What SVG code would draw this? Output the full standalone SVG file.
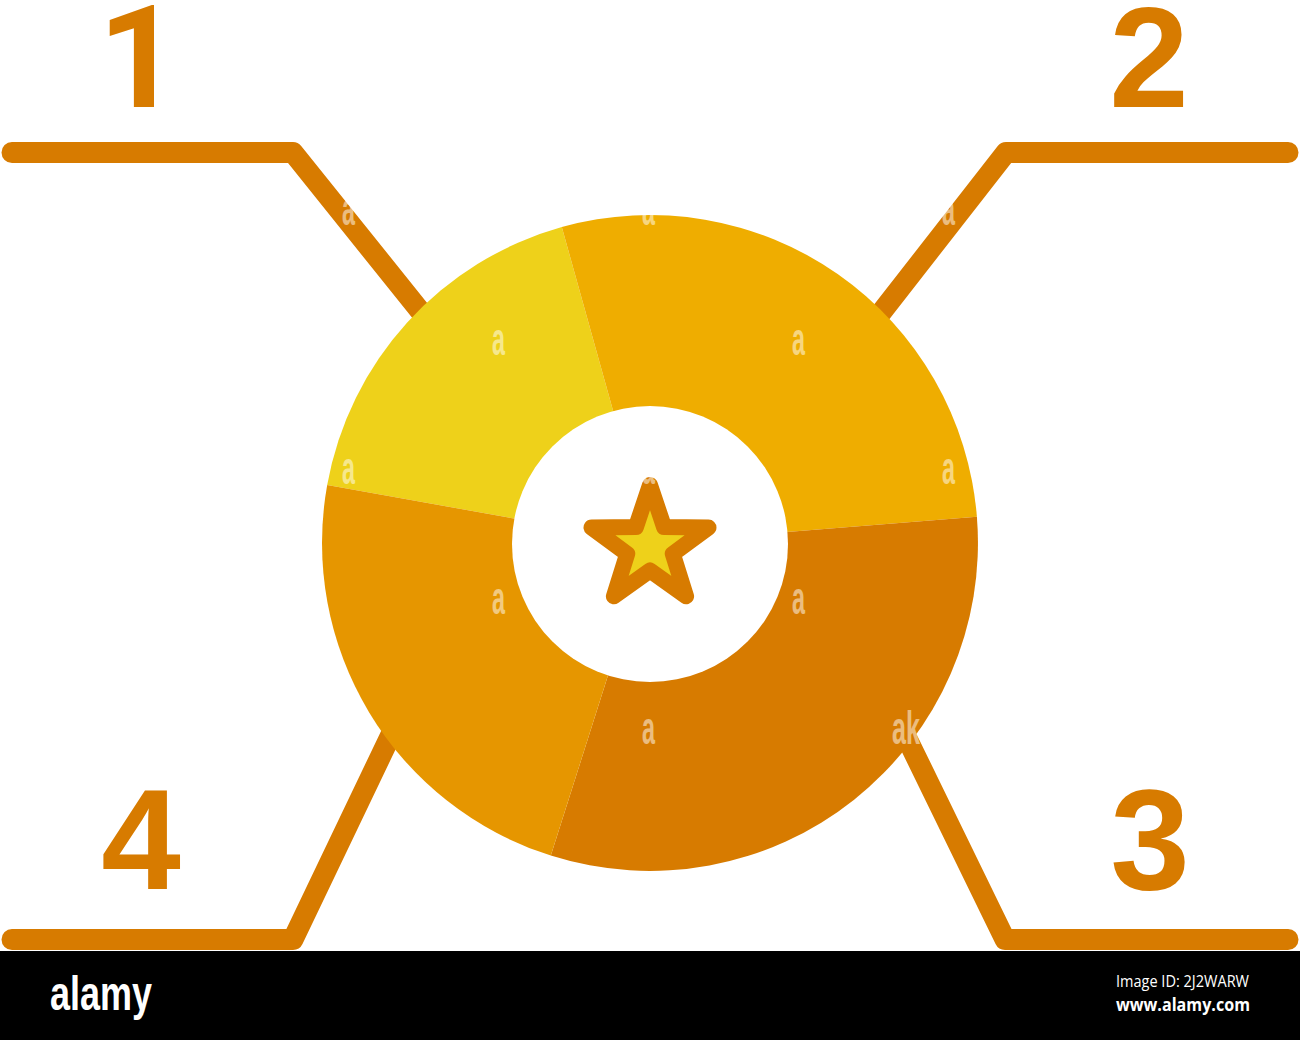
<svg xmlns="http://www.w3.org/2000/svg" width="1300" height="1040" viewBox="0 0 1300 1040">
  <style>
    .conn { fill: none; stroke: #D77B00; stroke-width: 21; stroke-linecap: round; stroke-linejoin: round; }
    .num { font-family: "Liberation Sans", Arial, sans-serif; font-weight: bold; font-size: 143px; fill: #D77B00; text-anchor: middle; }
    .one { font-family: Roboto, "Liberation Sans", Arial, sans-serif; }
    .wm { font-family: "Liberation Sans", Arial, sans-serif; font-weight: bold; font-size: 46px; fill: #FFFFFF; fill-opacity: 0.5; }
  </style>
  <rect x="0" y="0" width="1300" height="1040" fill="#FFFFFF"/>
  <g id="connectors">
    <path class="conn" d="M12,152.5 L293,152.5 L437,332"/>
    <path class="conn" d="M1288,152.5 L1006,152.5 L866,332"/>
    <path class="conn" d="M1288,939.5 L1005,939.5 L898,720"/>
    <path class="conn" d="M12,939.5 L293,939.5 L398,720"/>
  </g>
  <g id="donut">
    <path d="M650,543 L327.2,484.9 A328,328 0 0 1 561.8,227.1 Z" fill="#EED11A"/>
    <path d="M650,543 L561.8,227.1 A328,328 0 0 1 976.9,516.7 Z" fill="#EFAD00"/>
    <path d="M650,543 L976.9,516.7 A328,328 0 0 1 550.8,855.6 Z" fill="#D77B00"/>
    <path d="M650,543 L550.8,855.6 A328,328 0 0 1 327.2,484.9 Z" fill="#E69600"/>
    <circle cx="650" cy="544" r="138" fill="#FFFFFF"/>
  </g>
  <g id="star">
    <path d="M650,485 L664.1,527.1 L708.5,527.5 L672.8,553.9 L686.1,596.3 L650,570.5 L613.9,596.3 L627.2,553.9 L591.5,527.5 L635.9,527.1 Z" fill="#EED11A" stroke="#D77B00" stroke-width="16" stroke-linejoin="round"/>
  </g>
  <g id="label-1"><text class="num one" x="139" y="107">1</text></g>
  <g id="label-2"><text class="num" x="1149" y="107">2</text></g>
  <g id="label-3"><text class="num" x="1150" y="889">3</text></g>
  <g id="label-4"><text class="num" x="141" y="889">4</text></g>
  <g id="watermark-marks">
    <text class="wm" x="342" y="225" textLength="13" lengthAdjust="spacingAndGlyphs">a</text>
    <text class="wm" x="642" y="225" textLength="13" lengthAdjust="spacingAndGlyphs">a</text>
    <text class="wm" x="942" y="225" textLength="13" lengthAdjust="spacingAndGlyphs">a</text>
    <text class="wm" x="492" y="355" textLength="13" lengthAdjust="spacingAndGlyphs">a</text>
    <text class="wm" x="792" y="355" textLength="13" lengthAdjust="spacingAndGlyphs">a</text>
    <text class="wm" x="342" y="484" textLength="13" lengthAdjust="spacingAndGlyphs">a</text>
    <text class="wm" x="642" y="484" textLength="13" lengthAdjust="spacingAndGlyphs">a</text>
    <text class="wm" x="942" y="484" textLength="13" lengthAdjust="spacingAndGlyphs">a</text>
    <text class="wm" x="492" y="614" textLength="13" lengthAdjust="spacingAndGlyphs">a</text>
    <text class="wm" x="792" y="614" textLength="13" lengthAdjust="spacingAndGlyphs">a</text>
    <text class="wm" x="642" y="744" textLength="13" lengthAdjust="spacingAndGlyphs">a</text>
    <text class="wm" x="892" y="744" textLength="28" lengthAdjust="spacingAndGlyphs">ak</text>
  </g>
  <g id="footer">
    <rect x="0" y="951" width="1300" height="89" fill="#000000"/>
    <text x="50" y="1010" font-family="Liberation Sans, Arial, sans-serif" font-weight="bold" font-size="48" fill="#FFFFFF" textLength="102" lengthAdjust="spacingAndGlyphs">alamy</text>
    <text x="1116" y="987" font-family="Open Sans, Noto Sans, sans-serif" font-size="16" fill="#FFFFFF" textLength="133" lengthAdjust="spacingAndGlyphs">Image ID: 2J2WARW</text>
    <text x="1116" y="1011" font-family="Open Sans, Noto Sans, sans-serif" font-weight="bold" font-size="17" fill="#FFFFFF" textLength="134" lengthAdjust="spacingAndGlyphs">www.alamy.com</text>
  </g>
</svg>
